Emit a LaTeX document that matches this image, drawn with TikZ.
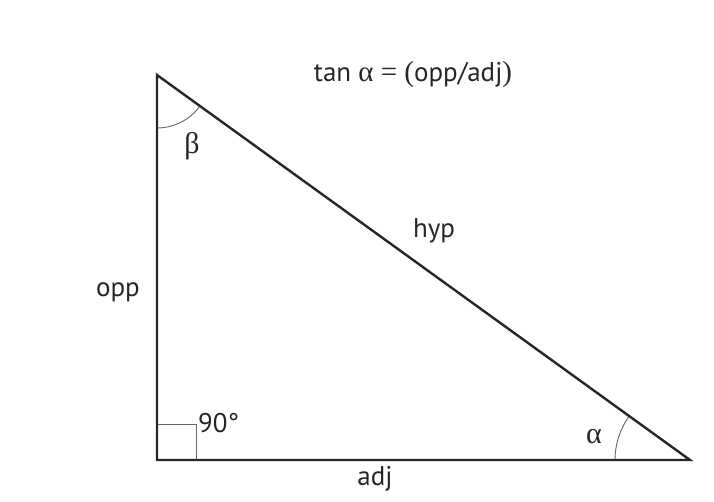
\documentclass[tikz,border=0pt]{standalone}
\usepackage{fontspec}
\usetikzlibrary{calc}
\setmainfont{PT Sans}
\newfontfamily\grk{Liberation Serif}
\begin{document}
\begin{tikzpicture}[x=1pt,y=-1pt,
  lbl/.style={anchor=base,inner sep=0pt,font=\fontsize{27}{32}\selectfont,text=black!85},
  side/.style={line width=2.4pt,black!85,line join=miter},
  thin/.style={line width=0.9pt,black!60}]
\useasboundingbox (0,0) rectangle (714,502);
\coordinate (A) at (157,75);
\coordinate (C) at (157,460);
\coordinate (B) at (690,460);
\draw[thin] (C) rectangle ++(39,-36);
\draw[thin] ($(A)+(90:53)$) arc (90:35.8:53);
\draw[thin] ($(B)+(180:75)$) arc (180:215.8:75);
\draw[side] (A) -- (B) -- (C) -- cycle;
\node[lbl] (tan) at (413,82) {tan {\grk\fontsize{29}{32}\selectfont α = (}opp/adj{\grk\fontsize{29}{32}\selectfont )}};
\node[lbl] (beta) at (192,154) {\grk\fontsize{30}{32}\selectfont β};
\node[lbl] (hyp) at (434,238) {hyp};
\node[lbl] (opp) at (118,297) {opp};
\node[lbl,anchor=base west] (ninety) at (198,432) {90°};
\node[lbl] (alpha) at (594,443) {\grk\fontsize{30}{32}\selectfont α};
\node[lbl] (adj) at (375,485) {adj};
\end{tikzpicture}
\end{document}
